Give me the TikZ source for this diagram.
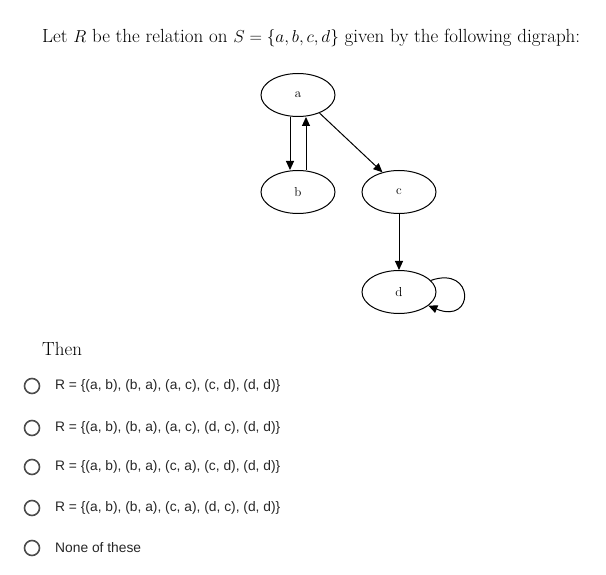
\documentclass[tikz,border=0pt]{standalone}
\usepackage{fontspec}
\setmainfont{Latin Modern Roman}
\newfontfamily\optfont{Liberation Sans}
\usetikzlibrary{arrows.meta,shapes.geometric}
\begin{document}
\begin{tikzpicture}[x=1pt,y=-1pt,
  vert/.style={draw,ellipse,line width=1pt,minimum width=74pt,minimum height=43pt,inner sep=0pt,font=\fontsize{13}{15}\selectfont},
  edge/.style={-{Triangle[length=9pt,width=8pt]},line width=1pt},
  radio/.style={draw=black!70,circle,line width=1.6pt,minimum size=15pt,inner sep=0pt},
  opt/.style={anchor=west,font=\optfont\fontsize{13.8}{16}\selectfont,text=black!85}]
\useasboundingbox (0,0) rectangle (606,575);
\node[anchor=west,font=\fontsize{19}{22}\selectfont,inner sep=0pt] (title) at (42,38) {Let $R$ be the relation on $S=\{a,b,c,d\}$ given by the following digraph:};
\node[vert] (a) at (298,95) {a};
\node[vert] (b) at (298,192) {b};
\node[vert] (c) at (399,192) {c};
\node[vert] (d) at (399,292) {d};
\draw[edge] ([xshift=-8pt]a.south) -- ([xshift=-8pt]b.north);
\draw[edge] ([xshift=8pt]b.north) -- ([xshift=8pt]a.north |- a.south);
\draw[edge] (a.-40) -- (c.130);
\draw[edge] (c.south) -- (d.north);
\draw[edge] (d.20) .. controls (475,265) and (475,325) .. (d.-25);
\node[anchor=west,font=\fontsize{19}{22}\selectfont,inner sep=0pt] (then) at (42,349) {Then};
\foreach \y/\t [count=\i] in {386/{R = \{(a, b), (b, a), (a, c), (c, d), (d, d)\}},
  428/{R = \{(a, b), (b, a), (a, c), (d, c), (d, d)\}},
  467/{R = \{(a, b), (b, a), (c, a), (c, d), (d, d)\}},
  508/{R = \{(a, b), (b, a), (c, a), (d, c), (d, d)\}},
  548/{None of these}}{
  \node[radio] (r\i) at (32,\y) {};
  \node[opt,inner sep=0pt] (o\i) at (55,\y) {\t};
}
\end{tikzpicture}
\end{document}
